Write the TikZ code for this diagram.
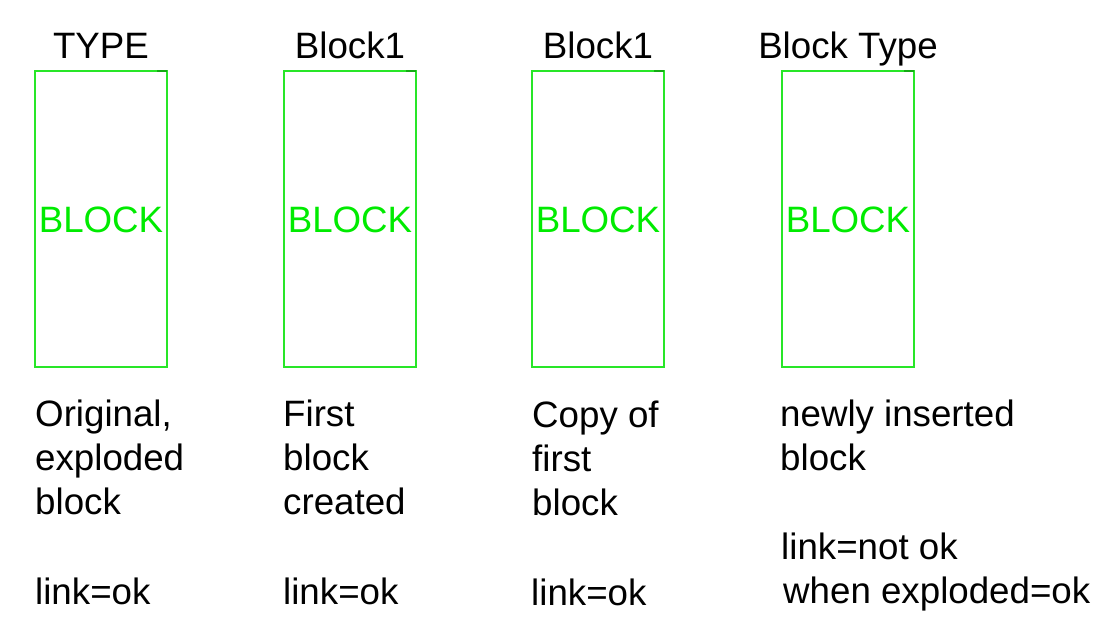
\documentclass[tikz,border=0pt]{standalone}
\usepackage{fontspec}
\setmainfont{Liberation Sans}
\definecolor{boxgreen}{RGB}{40,230,40}
\definecolor{textgreen}{RGB}{0,235,0}
\definecolor{darkgreen}{RGB}{20,170,20}
\tikzset{
  blockbox/.style={draw=boxgreen, line width=1.05pt},
  blocklabel/.style={text=textgreen, font=\fontsize{36.7}{44}\selectfont, anchor=base, inner sep=0pt},
  title/.style={font=\fontsize{36.7}{44}\selectfont, anchor=base, inner sep=0pt},
  note/.style={font=\fontsize{36.7}{44}\selectfont, anchor=base west, inner sep=0pt},
  cornermark/.style={draw=darkgreen, line width=1.3pt}
}
\begin{document}
\begin{tikzpicture}[x=1pt,y=-1pt]
\useasboundingbox (0,0) rectangle (1105,633);
\fill[white] (0,0) rectangle (1105,633);
% boxes
\foreach \n/\cx in {1/101, 2/350, 3/598, 4/848} {
  \draw[blockbox] (\cx-66,71) rectangle (\cx+66,367);
  \draw[cornermark] (\cx+56,71) -- (\cx+66,71);
  \node[blocklabel] (blk\n) at (\cx,232) {BLOCK};
}
% titles
\node[title] (t1) at (101,58) {TYPE};
\node[title] (t2) at (350,58) {Block1};
\node[title] (t3) at (598,58) {Block1};
\node[title] (t4) at (848,58) {Block Type};
% column 1
\node[note] (a1) at (35,426) {Original,};
\node[note] (a2) at (35,470) {exploded};
\node[note] (a3) at (35,514) {block};
\node[note] (a4) at (35,604) {link=ok};
% column 2
\node[note] (b1) at (283,426) {First};
\node[note] (b2) at (283,470) {block};
\node[note] (b3) at (283,514) {created};
\node[note] (b4) at (283,604) {link=ok};
% column 3
\node[note] (c1) at (532,427) {Copy of};
\node[note] (c2) at (532,471) {first};
\node[note] (c3) at (532,515) {block};
\node[note] (c4) at (531,605) {link=ok};
% column 4
\node[note] (d1) at (780,426) {newly inserted};
\node[note] (d2) at (780,470) {block};
\node[note] (d3) at (781,559) {link=not ok};
\node[note] (d4) at (783,603) {when exploded=ok};
\end{tikzpicture}
\end{document}
